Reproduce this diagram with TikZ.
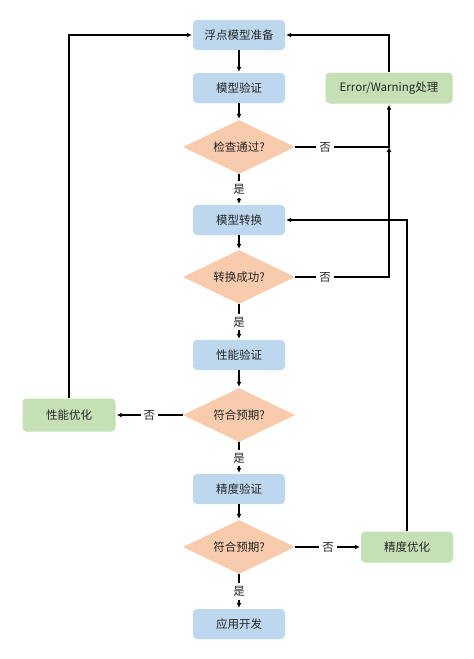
\documentclass[tikz,border=0pt]{standalone}
\usepackage{fontspec}
\setmainfont{Noto Sans CJK SC}
\usetikzlibrary{shapes.geometric,arrows.meta}
\definecolor{boxblue}{RGB}{189,215,238}
\definecolor{boxorange}{RGB}{248,203,173}
\definecolor{boxgreen}{RGB}{197,224,180}
\tikzset{
  txt/.style={font=\fontsize{11.5}{13}\selectfont,text=black!85},
  proc/.style={txt,rectangle,rounded corners=4pt,fill=boxblue,minimum width=92pt,minimum height=30pt,inner sep=2pt},
  fix/.style={txt,rectangle,rounded corners=4pt,fill=boxgreen,minimum height=31pt,inner sep=2pt},
  decide/.style={txt,diamond,fill=boxorange,aspect=2.1,minimum width=112pt,minimum height=54pt,inner sep=0pt},
  lbl/.style={txt,fill=white,inner sep=3pt},
  conn/.style={line width=1.1pt,-{Latex[length=5pt,width=5pt]},shorten >=1pt}
}
\begin{document}
\begin{tikzpicture}[x=1pt,y=-1pt]
\useasboundingbox (0,0) rectangle (474,659);
\node[proc] (a) at (239,35) {浮点模型准备};
\node[proc] (b) at (239,88) {模型验证};
\node[decide] (c) at (239,147) {检查通过?};
\node[proc] (d) at (239,220) {模型转换};
\node[decide] (e) at (239,277) {转换成功?};
\node[proc] (f) at (239,355) {性能验证};
\node[decide] (g) at (239,415) {符合预期?};
\node[proc] (h) at (239,489) {精度验证};
\node[decide] (i) at (239,547) {符合预期?};
\node[proc] (j) at (239,624) {应用开发};
\node[fix,minimum width=127pt] (err) at (389,88) {Error/Warning处理};
\node[fix,minimum width=93pt,minimum height=33pt] (perf) at (69,415) {性能优化};
\node[fix,minimum width=92pt] (prec) at (407,547) {精度优化};
\coordinate (m1) at (389,147);
\coordinate (m2) at (389,277);
\coordinate (t1) at (389,35);
\coordinate (t2) at (69,35);
\coordinate (t3) at (407,220);
% main flow
\draw[conn] (a) -- (b);
\draw[conn] (b) -- (c);
\draw[conn] (c) -- node[lbl] {是} (d);
\draw[conn] (d) -- (e);
\draw[conn] (e) -- node[lbl] {是} (f);
\draw[conn] (f) -- (g);
\draw[conn] (g) -- node[lbl] {是} (h);
\draw[conn] (h) -- (i);
\draw[conn] (i) -- node[lbl] {是} (j);
% errors
\draw[conn] (c.east) -- node[lbl,pos=0.32] {否} (m1) -- (err.south);
\draw[conn,shorten >=0pt] (e.east) -- node[lbl,pos=0.32] {否} (m2) -- (m1);
\draw[conn] (err.north) -- (t1) -- (a.east);
% performance
\draw[conn] (g.west) -- node[lbl] {否} (perf.east);
\draw[conn] (perf.north) -- (t2) -- (a.west);
% precision
\draw[conn] (i.east) -- node[lbl] {否} (prec.west);
\draw[conn] (prec.north) -- (t3) -- (d.east);
\end{tikzpicture}
\end{document}
